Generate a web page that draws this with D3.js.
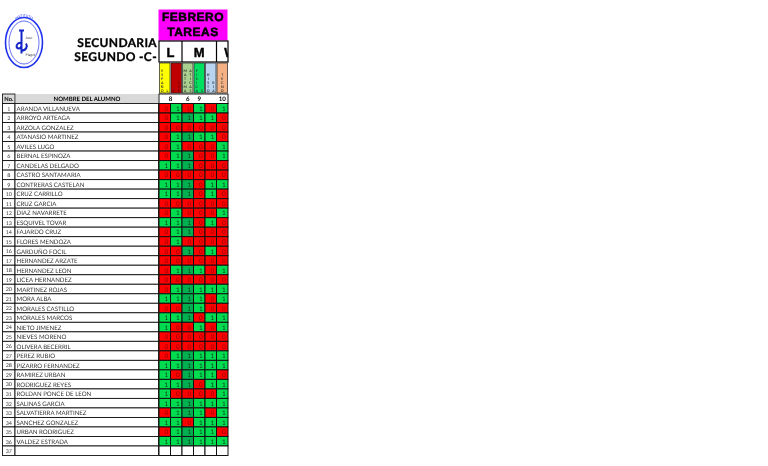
<!DOCTYPE html>
<html>
<head>
<meta charset="utf-8">
<script src="https://cdn.jsdelivr.net/npm/d3@7"></script>
<style>
  body { margin: 0; background: #fff; }
  svg { display: block; filter: blur(0.4px); }
  text { font-family: Lato, "Open Sans", sans-serif; text-rendering: geometricPrecision; }
</style>
</head>
<body>
<script>
const alumnos = ["ARANDA VILLANUEVA","ARROYO ARTEAGA","ARZOLA GONZALEZ","ATANASIO MARTINEZ","AVILES LUGO","BERNAL ESPINOZA","CANDELAS DELGADO","CASTRO SANTAMARIA","CONTRERAS CASTELAN","CRUZ CARRILLO","CRUZ GARCIA","DIAZ NAVARRETE","ESQUIVEL TOVAR","FAJARDO CRUZ","FLORES MENDOZA","GARDUÑO FOCIL","HERNANDEZ ARZATE","HERNANDEZ LEON","LICEA HERNANDEZ","MARTINEZ ROJAS","MORA ALBA","MORALES CASTILLO","MORALES MARCOS","NIETO JIMENEZ","NIEVES MORENO","OLIVERA BECERRIL","PEREZ RUBIO","PIZARRO FERNANDEZ","RAMIREZ URBAN","RODRIGUEZ REYES","ROLDAN PONCE DE LEON","SALINAS GARCIA","SALVATIERRA MARTINEZ","SANCHEZ GONZALEZ","URBAN RODRIGUEZ","VALDEZ ESTRADA",""];
// vertical header text, one string per printed column of letters
const materias = [["ESPAÑO","L"],["F","CYE"],["MATEMA","ATICAS"],["FISICA","S"],["HISTO","RIA"],["TECNO"]];
const materiaColor = ["#ffff00","#c00000","#a9d08e","#00e060","#b8d4ee","#f4b183"];
const fechas = ["8","6","9","10"];
const fechaCol = [0.5,2,3,5];
const dias = ["L","M","W"];
const diaCol = [0.5,3,5.7];

const espanol = [0,0,0,0,0,0,1,0,1,1,0,0,1,0,0,0,0,0,0,0,1,0,1,1,0,0,0,1,1,1,1,1,0,1,0,1];
const fcye    = [1,1,0,1,1,1,1,0,1,1,0,1,1,1,1,0,0,1,0,1,1,0,1,0,0,0,1,1,0,1,0,1,1,1,1,1];
const mate    = [0,1,0,1,0,1,1,0,1,1,0,0,1,1,0,1,0,1,0,1,1,1,1,0,0,0,1,1,1,1,0,1,1,0,1,1];
const fisica  = [1,1,0,1,0,0,0,0,0,0,0,0,0,0,0,0,0,1,0,1,1,1,0,1,0,0,1,1,1,0,0,1,1,1,1,1];
const historia= [0,1,0,1,0,0,0,0,1,1,0,0,1,0,0,1,0,0,0,1,0,0,1,0,0,0,1,1,1,1,0,1,0,1,1,1];
const tecno   = [1,0,0,0,1,1,0,0,1,0,0,1,0,0,0,0,0,1,0,1,1,0,1,1,0,0,1,1,0,1,1,1,1,1,0,1];
const series = [espanol,fcye,mate,fisica,historia,tecno];

const svg = d3.select("body").append("svg").attr("width",768).attr("height",466);

const x = d3.scaleBand().domain(d3.range(materias.length)).range([159,228]);
const y = d3.scaleBand().domain(d3.range(alumnos.length)).range([103.5,455.5]);
const colCentro = c => x(0) + (c+0.5)*x.step();
const fill = d => d.v === 1 ? (d.c === 2 ? "#00b050" : "#00dc50") : "#ff0000";

// encabezado
svg.append("rect").attr("x",158.5).attr("y",9.5).attr("width",69).attr("height",31).attr("fill","#ff00ff");
svg.selectAll("text.tit").data(["FEBRERO","TAREAS"]).enter().append("text")
  .attr("x",193).attr("y",(d,i)=>20.5+i*15.5).attr("text-anchor","middle")
  .style("font-family","Liberation Sans").attr("font-size",12).attr("font-weight",700)
  .attr("letter-spacing",.5).attr("stroke","#000").attr("stroke-width",.5).attr("fill","#000").text(d=>d);

svg.selectAll("text.esc").data(["SECUNDARIA","SEGUNDO -C-"]).enter().append("text")
  .attr("x",157).attr("y",(d,i)=>47+i*14).attr("text-anchor","end")
  .attr("font-size",12).attr("font-weight",700).attr("letter-spacing",.35)
  .attr("stroke","#000").attr("stroke-width",.3).attr("fill","#000").text(d=>d);

// logo
const azul = "#2233ee";
const logo = svg.append("g").attr("transform","translate(24,42.5)");
logo.append("ellipse").attr("rx",18.5).attr("ry",25).attr("fill","none").attr("stroke",azul).attr("stroke-width",1.6);
logo.append("ellipse").attr("rx",15).attr("ry",21.5).attr("fill","none").attr("stroke",azul).attr("stroke-width",.7);
logo.append("path").attr("id","aro").attr("fill","none").attr("d","M-15.5,-8 A15.8,22 0 0 1 15.5,-8");
logo.append("text").attr("font-size",3.4).attr("fill",azul).append("textPath")
  .attr("href","#aro").attr("startOffset","50%").attr("text-anchor","middle").text("INSTITUTO");
logo.append("path").attr("fill","none").attr("stroke","#1524c8").attr("stroke-width",2)
  .attr("d","M-5,-12 H0 M-2.5,-12 V11 M-7.5,3 C-5,-1 -2.5,0 -2.5,3 C-3,7 -7.5,7 -7.5,3 M-2.5,8 C2,8 4,4 2,1");
logo.append("text").attr("x",1.5).attr("y",-4).attr("font-size",3.6).attr("fill","#334").text("Jose");
logo.append("text").attr("x",1.5).attr("y",13).attr("font-size",3.6).attr("fill","#334").text("Piaget");

// dias
svg.selectAll("text.dia").data(dias).enter().append("text")
  .attr("x",(d,i)=>colCentro(diaCol[i])).attr("y",57).attr("text-anchor","middle")
  .style("font-family","Liberation Sans").attr("font-size",13).attr("font-weight",700)
  .attr("stroke","#000").attr("stroke-width",.4).text(d=>d);
svg.append("rect").attr("x",228).attr("y",40).attr("width",20).attr("height",24).attr("fill","#fff");
const cabeza = svg.append("g").attr("fill","none").attr("stroke","#000");
cabeza.append("rect").attr("x",159).attr("y",41).attr("width",69).attr("height",21).attr("stroke-width",1.2);
[2,5].forEach(c=>cabeza.append("line").attr("x1",x(c)).attr("x2",x(c)).attr("y1",41).attr("y2",62).attr("stroke-width",1.2));

// materias
const mat = svg.selectAll("g.mat").data(materias).enter().append("g");
mat.append("rect").attr("x",(d,i)=>x(i)+.5).attr("y",63).attr("width",x.bandwidth()-1).attr("height",30)
  .attr("fill",(d,i)=>materiaColor[i]).attr("stroke","#222").attr("stroke-width",.7);
mat.each(function(cols,i){
  const g = d3.select(this);
  cols.forEach((col,j)=>{
    const letras = col.split("");
    const cx = colCentro(i) + (cols.length===1 ? 0 : (j===0 ? -2.6 : 2.6));
    g.selectAll("text.c"+j).data(letras).enter().append("text").attr("class","c"+j)
      .attr("x",cx).attr("y",(l,k)=>91.5-(letras.length-1-k)*3.9)
      .attr("text-anchor","middle").attr("font-size",3.5).attr("font-weight",700)
      .attr("fill",i===1?"#5a0000":"#333").text(l=>l);
  });
});

// fila de titulos
svg.append("rect").attr("x",2.5).attr("y",94).attr("width",12.5).attr("height",9.5).attr("fill","#d9d9d9").attr("stroke","#000").attr("stroke-width",.8);
svg.append("rect").attr("x",16).attr("y",94).attr("width",142.5).attr("height",9.5).attr("fill","#d9d9d9");
svg.append("text").attr("x",8.8).attr("y",101).attr("text-anchor","middle").attr("font-size",5.8).attr("font-weight",700).text("No.");
svg.append("text").attr("x",87).attr("y",101).attr("text-anchor","middle").attr("font-size",6).attr("font-weight",700).text("NOMBRE DEL ALUMNO");
svg.append("rect").attr("x",159).attr("y",94).attr("width",69).attr("height",9.5).attr("fill","#fff").attr("stroke","#000").attr("stroke-width",.9);
svg.selectAll("text.fecha").data(fechas).enter().append("text")
  .attr("x",(d,i)=>colCentro(fechaCol[i])).attr("y",101.2).attr("text-anchor","middle")
  .attr("font-size",6.2).attr("font-weight",700).text(d=>d);

// filas
const fila = svg.selectAll("g.fila").data(alumnos).enter().append("g");
fila.append("rect").attr("x",2.5).attr("y",(d,i)=>y(i)).attr("width",12.5).attr("height",y.bandwidth())
  .attr("fill","#fff").attr("stroke","#111").attr("stroke-width",.9);
fila.append("rect").attr("x",15).attr("y",(d,i)=>y(i)).attr("width",143.5).attr("height",y.bandwidth())
  .attr("fill","#fff").attr("stroke","#111").attr("stroke-width",.9);
fila.append("text").attr("x",8.8).attr("y",(d,i)=>y(i)+7.1).attr("text-anchor","middle").attr("font-size",5.4).attr("fill","#333").text((d,i)=>i+1);
fila.filter(d=>d).append("text").attr("x",16.5).attr("y",d=>y(alumnos.indexOf(d))+7.3).attr("font-size",6.1).attr("fill","#333").text(d=>d);

// celdas
const celdas = [];
series.forEach((s,c)=>alumnos.forEach((a,r)=>celdas.push({c,r,v:s[r]})));
svg.selectAll("rect.celda").data(celdas).enter().append("rect").attr("class","celda")
  .attr("x",d=>x(d.c)).attr("y",d=>y(d.r)).attr("width",x.bandwidth()).attr("height",y.bandwidth())
  .attr("fill",d=>d.v===undefined?"#fff":fill(d)).attr("stroke","#111").attr("stroke-width",1);
svg.selectAll("text.val").data(celdas.filter(d=>d.v!==undefined)).enter().append("text")
  .attr("x",d=>x(d.c)+x.bandwidth()-2.3).attr("y",d=>y(d.r)+7.3).attr("text-anchor","end")
  .attr("font-size",6.4).attr("fill",d=>d.v===1?"#063d1e":"#8a0000").text(d=>d.v);
</script>
</body>
</html>
